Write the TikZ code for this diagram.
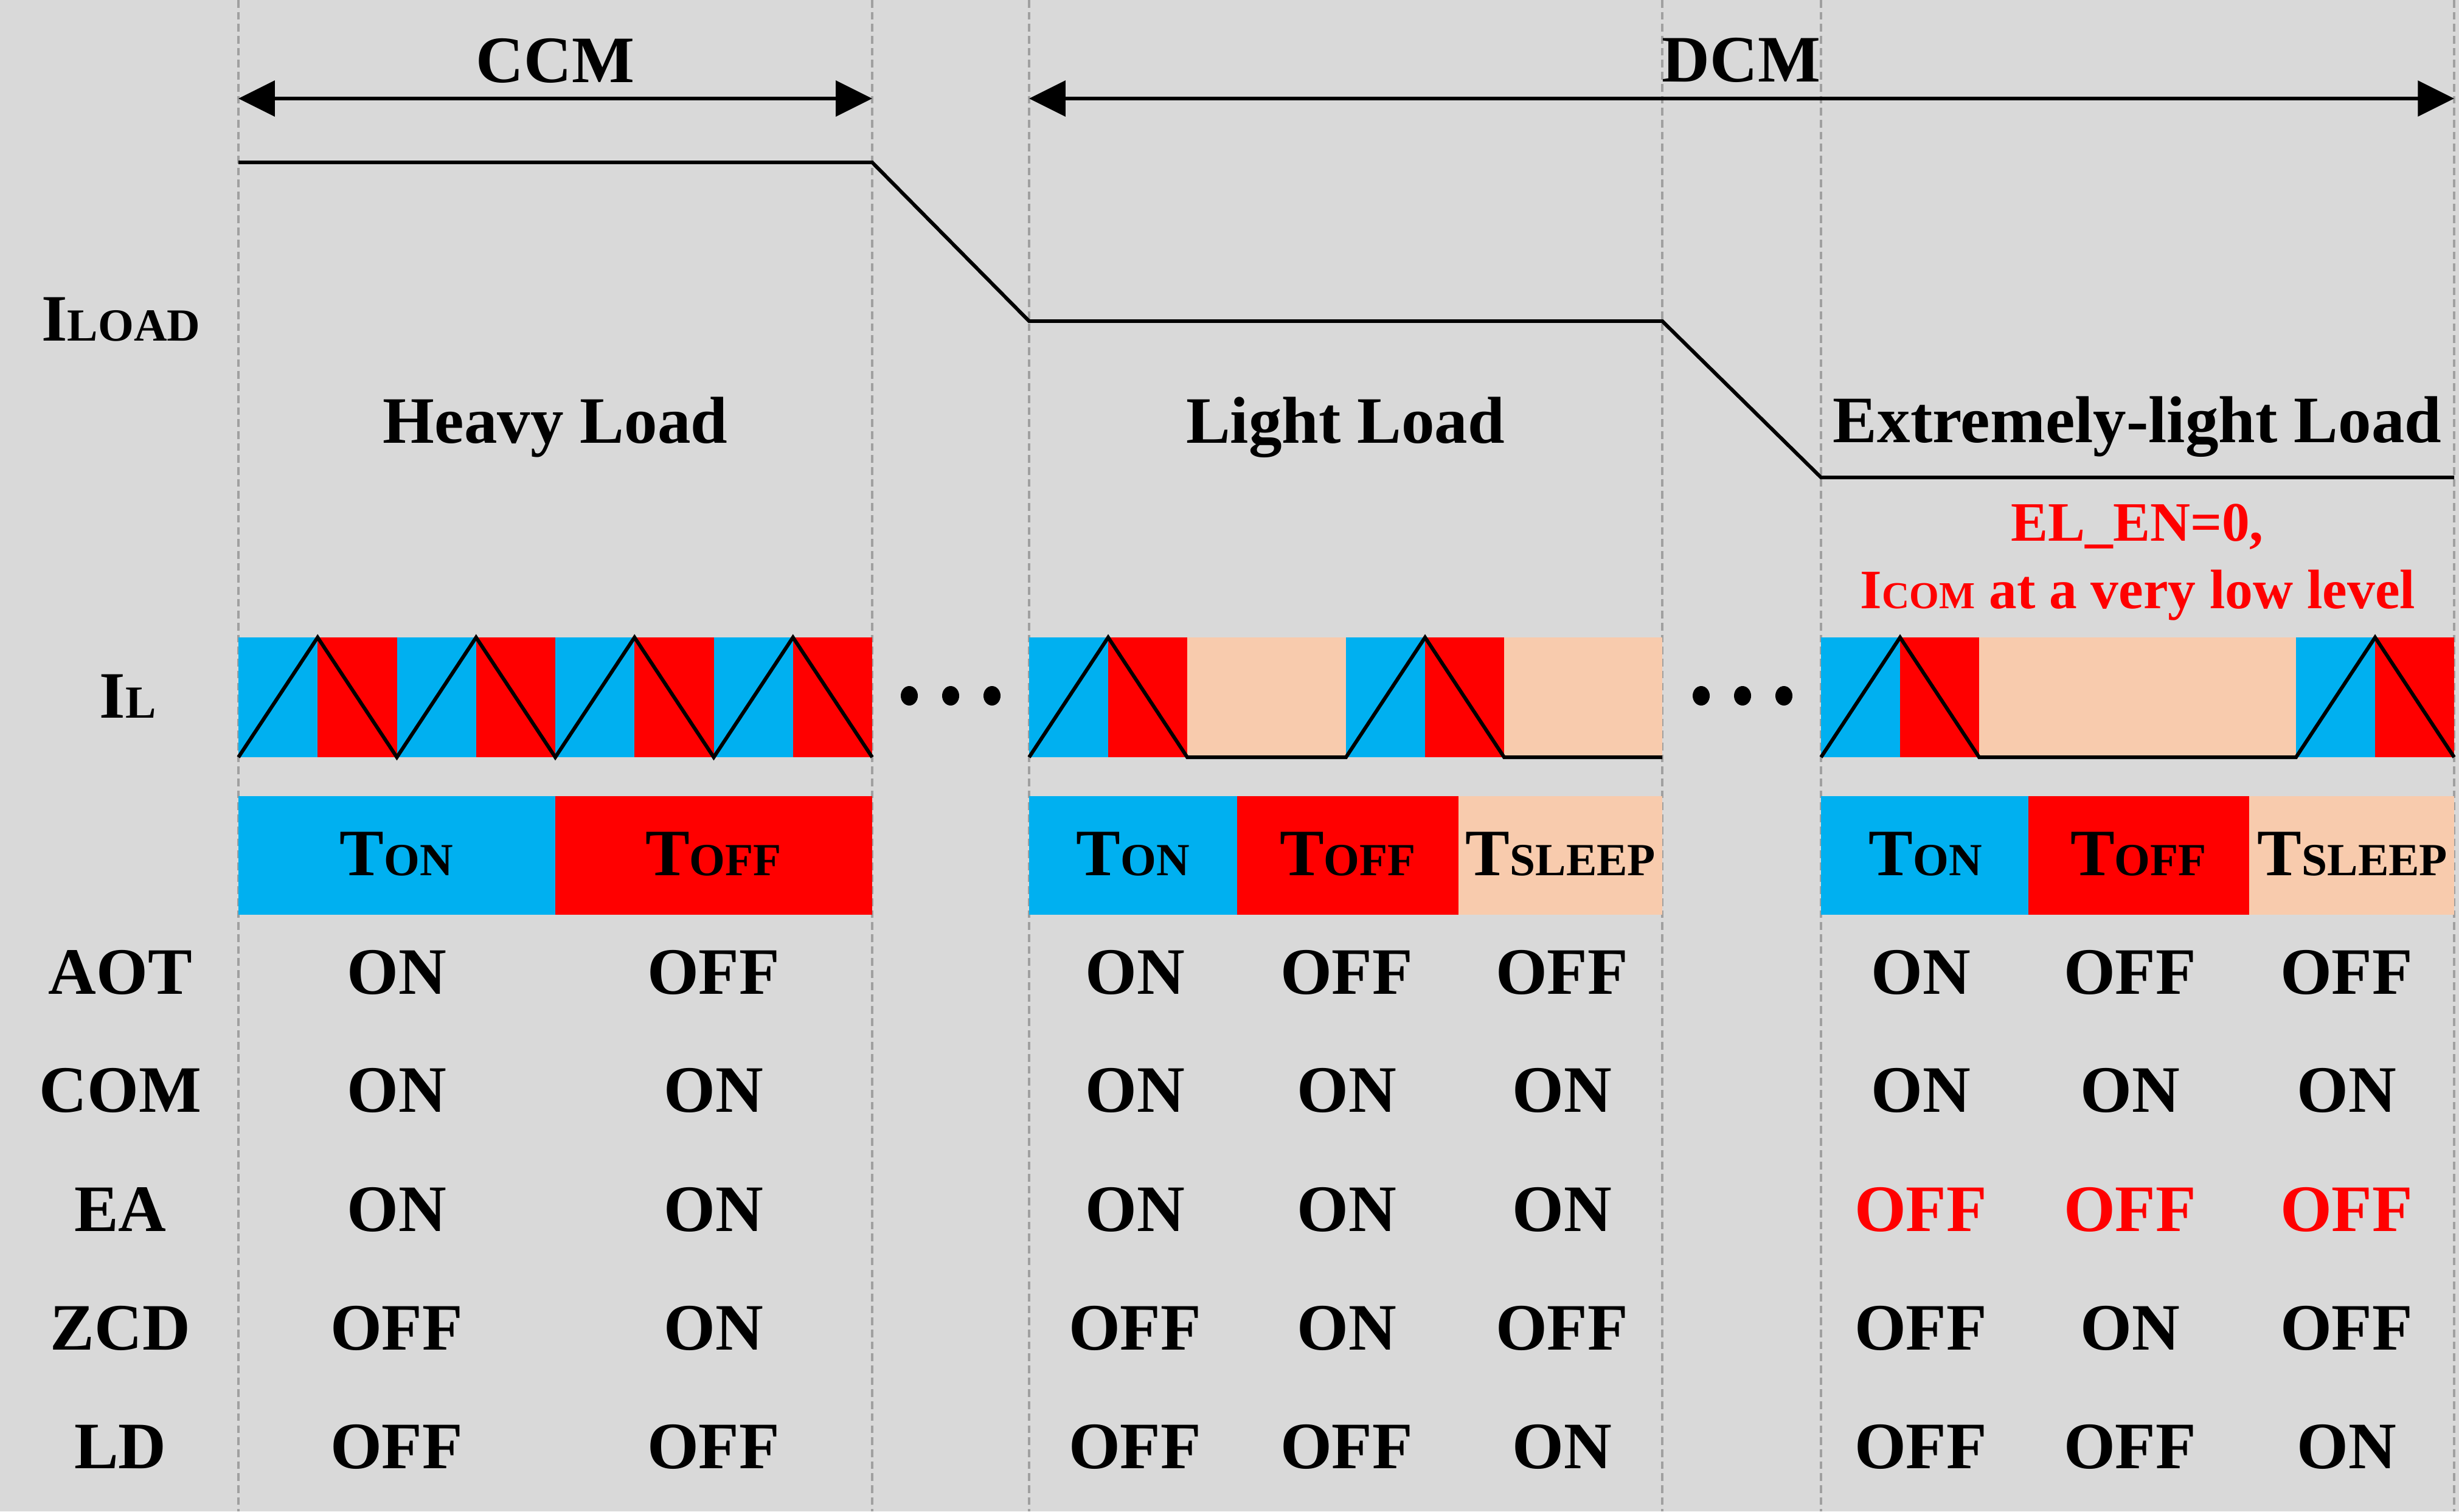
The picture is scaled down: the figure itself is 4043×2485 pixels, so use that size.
\documentclass[tikz,border=0pt]{standalone}
\usepackage{fontspec}
\setmainfont{Liberation Serif}
\usetikzlibrary{arrows.meta}
\definecolor{bg}{HTML}{D9D9D9}
\definecolor{cblue}{HTML}{00B0F0}
\definecolor{cred}{HTML}{FF0000}
\definecolor{cpeach}{HTML}{F8CBAD}
\definecolor{cdash}{HTML}{A0A0A0}
\newcommand\smcA[1]{{\fontsize{21.5}{22}\selectfont #1}}
\newcommand\smcB[1]{{\fontsize{17.8}{18}\selectfont #1}}
\begin{document}
\begin{tikzpicture}[x=0.01cm,y=-0.01cm,
  lbl/.style={anchor=base,font=\fontsize{31}{32}\selectfont\bfseries,inner sep=0pt},
  redlbl/.style={anchor=base,font=\fontsize{26}{27}\selectfont\bfseries,text=cred,inner sep=0pt},
  guide/.style={cdash,line width=1.1pt,dash pattern=on 3.6pt off 2pt},
  wave/.style={black,line width=1.7pt,line join=miter},
  spanarrow/.style={line width=1.7pt,{Triangle[length=17pt,width=16.5pt]}-{Triangle[length=17pt,width=16.5pt]}},
  dot/.style={fill=black},
]
\useasboundingbox (0,0) rectangle (4043,2485);
\fill[bg] (0,0) rectangle (4043,2485);
% guide lines
\foreach \gx in {392,1434,1692,2733,2994,4035}
  \draw[guide] (\gx,0) -- (\gx,2485);

% ---------- IL band fills ----------
\foreach \i in {0,...,3}{
  \fill[cblue] (392+260.5*\i,1048) rectangle +(130.25,197);
  \fill[cred] (522.25+260.5*\i,1048) rectangle +(130.25,197);
}
\fill[cblue] (1692,1048) rectangle (1822,1245);
\fill[cred] (1822,1048) rectangle (1952,1245);
\fill[cpeach] (1952,1048) rectangle (2213,1245);
\fill[cblue] (2213,1048) rectangle (2343,1245);
\fill[cred] (2343,1048) rectangle (2473,1245);
\fill[cpeach] (2473,1048) rectangle (2733,1245);
\fill[cblue] (2994,1048) rectangle (3124,1245);
\fill[cred] (3124,1048) rectangle (3254,1245);
\fill[cpeach] (3254,1048) rectangle (3775,1245);
\fill[cblue] (3775,1048) rectangle (3905,1245);
\fill[cred] (3905,1048) rectangle (4035,1245);

% waveforms
\draw[wave] (392,1245) -- (522.25,1048) -- (652.5,1245) -- (782.75,1048) -- (913,1245)
  -- (1043.25,1048) -- (1173.5,1245) -- (1303.75,1048) -- (1434,1245);
\draw[wave] (1692,1245) -- (1822,1048) -- (1952,1245) -- (2213,1245) -- (2343,1048)
  -- (2473,1245) -- (2733,1245);
\draw[wave] (2994,1245) -- (3124,1048) -- (3254,1245) -- (3775,1245) -- (3905,1048)
  -- (4035,1245);

% dots
\foreach \dx in {1495,1563,1631,2797,2865,2933}
  \fill[dot] (\dx,1144) ellipse [x radius=14, y radius=16];

% ---------- T band ----------
\fill[cblue] (392,1309) rectangle (913,1504);
\fill[cred] (913,1309) rectangle (1434,1504);
\fill[cblue] (1692,1309) rectangle (2034,1504);
\fill[cred] (2034,1309) rectangle (2398,1504);
\fill[cpeach] (2398,1309) rectangle (2733,1504);
\fill[cblue] (2994,1309) rectangle (3335,1504);
\fill[cred] (3335,1309) rectangle (3698,1504);
\fill[cpeach] (3698,1309) rectangle (4035,1504);

\node[lbl] (ton1) at (652,1439) {T\smcA{ON}};
\node[lbl] (toff1) at (1173,1439) {T\smcA{OFF}};
\node[lbl] (ton2) at (1863,1439) {T\smcA{ON}};
\node[lbl] (toff2) at (2216,1439) {T\smcA{OFF}};
\node[lbl] (tsl2) at (2566,1439) {T\smcA{SLEEP}};
\node[lbl] (ton3) at (3166,1439) {T\smcA{ON}};
\node[lbl] (toff3) at (3516,1439) {T\smcA{OFF}};
\node[lbl] (tsl3) at (3868,1439) {T\smcA{SLEEP}};

% ---------- mode arrows ----------
\coordinate (ccmL) at (392,162);
\coordinate (ccmR) at (1434,162);
\coordinate (dcmL) at (1692,162);
\coordinate (dcmR) at (4035,162);
\draw[spanarrow] (ccmL) -- (ccmR);
\draw[spanarrow] (dcmL) -- (dcmR);
\node[lbl] (ccm) at (913,136) {CCM};
\node[lbl] (dcm) at (2863,135) {DCM};

% ---------- load line ----------
\draw[wave] (392,267) -- (1434,267) -- (1692,528) -- (2733,528) -- (2994,785) -- (4035,785);
\node[lbl] (iload) at (199,560) {I\smcA{LOAD}};
\node[lbl] (heavy) at (913,728) {Heavy Load};
\node[lbl] (light) at (2212,728) {Light Load};
\node[lbl] (xlight) at (3514,727) {Extremely-light Load};
\node[redlbl] (elen) at (3514,889) {EL\_EN=0,};
\node[redlbl] (icom) at (3515,1000) {I\smcB{COM} at a very low level};
\node[lbl] (il) at (210,1180) {I\smcA{L}};

% ---------- table ----------
\foreach \yy/\nm/\a/\b/\c/\d/\e/\f/\g/\h/\ec [count=\r] in {
 1634/AOT/ON/OFF/ON/OFF/OFF/ON/OFF/OFF/black,
 1828/COM/ON/ON/ON/ON/ON/ON/ON/ON/black,
 2024/EA/ON/ON/ON/ON/ON/OFF/OFF/OFF/cred,
 2219/ZCD/OFF/ON/OFF/ON/OFF/OFF/ON/OFF/black,
 2414/LD/OFF/OFF/OFF/OFF/ON/OFF/OFF/ON/black}{
 \node[lbl] (row\r) at (198,\yy) {\nm};
 \node[lbl] (r\r-c1) at (652,\yy) {\a};
 \node[lbl] (r\r-c2) at (1173,\yy) {\b};
 \node[lbl] (r\r-c3) at (1866,\yy) {\c};
 \node[lbl] (r\r-c4) at (2214,\yy) {\d};
 \node[lbl] (r\r-c5) at (2568,\yy) {\e};
 \node[lbl,text=\ec] (r\r-c6) at (3158,\yy) {\f};
 \node[lbl,text=\ec] (r\r-c7) at (3502,\yy) {\g};
 \node[lbl,text=\ec] (r\r-c8) at (3858,\yy) {\h};
}
\end{tikzpicture}
\end{document}
